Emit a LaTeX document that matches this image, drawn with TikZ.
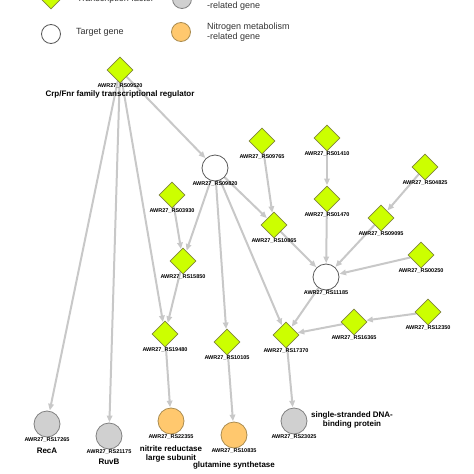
\documentclass[tikz,border=0pt]{standalone}
\usepackage{fontspec}
\setmainfont{Liberation Sans}
\usetikzlibrary{arrows.meta,shapes.geometric,backgrounds}
\definecolor{tflime}{RGB}{204,255,0}
\definecolor{tfedge}{RGB}{128,132,60}
\definecolor{repgray}{RGB}{208,208,208}
\definecolor{nitorange}{RGB}{255,200,110}
\definecolor{nitedge}{RGB}{170,140,80}
\definecolor{edgegray}{RGB}{200,200,200}

\begin{document}
\begin{tikzpicture}[x=1pt,y=-1pt,
  font=\fontsize{9}{10}\selectfont,
  tf/.style={diamond,draw=tfedge,fill=tflime,line width=0.8pt,minimum size=26pt,inner sep=0pt},
  tg/.style={circle,draw=black!65,fill=white,line width=0.8pt,minimum size=26pt,inner sep=0pt},
  rep/.style={tg,draw=black!50,fill=repgray},
  nit/.style={tg,draw=nitedge,fill=nitorange},
  lbl/.style={font=\fontsize{5.5}{6}\selectfont\bfseries,inner sep=0.5pt},
  gname/.style={font=\fontsize{8}{9}\selectfont\bfseries,align=center,inner sep=0pt},
  legtxt/.style={anchor=west,align=left,inner sep=0pt,text=black!80},
  arr/.style={-{Triangle[length=6.5pt,width=5.5pt]},line width=2pt,edgegray,shorten >=0.5pt},
  ]
  \useasboundingbox (0,0) rectangle (474,474);
  % legend
  \node[tf,minimum size=22pt] (legtf) at (51,-2) {};
  \node[legtxt] (legtftxt) at (77,-1) {Transcription factor};
  \node[tg,minimum size=19pt] (legtg) at (51,34) {};
  \node[legtxt] (legtgtxt) at (76,32) {Target gene};
  \node[rep,minimum size=19pt] (legrep) at (182,-1) {};
  \node[legtxt] (legreptxt) at (207,6) {-related gene};
  \node[nit,minimum size=19pt] (legnit) at (181,32) {};
  \node[legtxt] (legnittxt) at (207,32.5) {Nitrogen metabolism\\-related gene};
  % transcription factors and target genes
  \node[tf,label={[lbl]below:AWR27\_RS09520}] (n09520) at (120,70) {};
  \node[gname] (crp) at (120,94) {Crp/Fnr family transcriptional regulator};
  \node[tg,label={[lbl]below:AWR27\_RS09820}] (n09820) at (215,168) {};
  \node[tf,label={[lbl]below:AWR27\_RS09765}] (n09765) at (262,141) {};
  \node[tf,label={[lbl]below:AWR27\_RS01410}] (n01410) at (327,138) {};
  \node[tf,label={[lbl]below:AWR27\_RS04825}] (n04825) at (425,167) {};
  \node[tf,label={[lbl]below:AWR27\_RS03930}] (n03930) at (172,195) {};
  \node[tf,label={[lbl]below:AWR27\_RS01470}] (n01470) at (327,199) {};
  \node[tf,label={[lbl]below:AWR27\_RS10865}] (n10865) at (274,225) {};
  \node[tf,label={[lbl]below:AWR27\_RS09095}] (n09095) at (381,218) {};
  \node[tf,label={[lbl]below:AWR27\_RS00250}] (n00250) at (421,255) {};
  \node[tg,label={[lbl]below:AWR27\_RS11185}] (n11185) at (326,277) {};
  \node[tf,label={[lbl]below:AWR27\_RS15850}] (n15850) at (183,261) {};
  \node[tf,label={[lbl]below:AWR27\_RS19480}] (n19480) at (165,334) {};
  \node[tf,label={[lbl]below:AWR27\_RS10105}] (n10105) at (227,342) {};
  \node[tf,label={[lbl]below:AWR27\_RS17370}] (n17370) at (286,335) {};
  \node[tf,label={[lbl]below:AWR27\_RS16365}] (n16365) at (354,322) {};
  \node[tf,label={[lbl]below:AWR27\_RS12350}] (n12350) at (428,312) {};
  % end genes
  \node[rep,label={[lbl]below:AWR27\_RS17265}] (n17265) at (47,424) {};
  \node[gname] (reca) at (47,451) {RecA};
  \node[rep,label={[lbl]below:AWR27\_RS21175}] (n21175) at (109,436) {};
  \node[gname] (ruvb) at (109,462) {RuvB};
  \node[nit,label={[lbl]below:AWR27\_RS22355}] (n22355) at (171,421) {};
  \node[gname] (nir) at (171,453.5) {nitrite reductase\\large subunit};
  \node[nit,label={[lbl]below:AWR27\_RS10835}] (n10835) at (234,435) {};
  \node[gname] (gln) at (234,465) {glutamine synthetase};
  \node[rep,label={[lbl]below:AWR27\_RS23025}] (n23025) at (294,421) {};
  \node[gname] (ssb) at (352,420) {single-stranded DNA-\\binding protein};
  % regulation
  \begin{scope}[on background layer]
    \foreach \a/\b in {09520/17265,09520/21175,09520/19480,09520/09820,
                       09820/15850,03930/15850,09820/10105,09820/17370,
                       09820/10865,09765/10865,10865/11185,01410/01470,
                       01470/11185,04825/09095,09095/11185,00250/11185,
                       11185/17370,16365/17370,12350/16365,15850/19480,
                       19480/22355,10105/10835,17370/23025}
      \draw[arr] (n\a) -- (n\b);
  \end{scope}
\end{tikzpicture}
\end{document}
